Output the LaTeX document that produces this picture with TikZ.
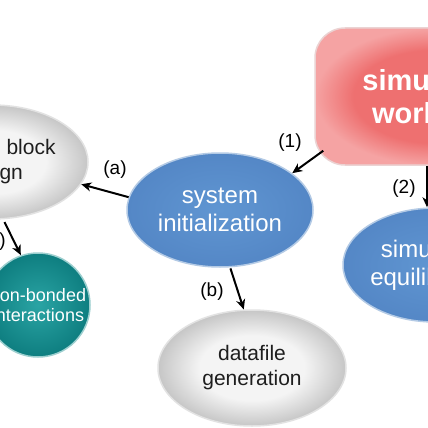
\documentclass[tikz,border=0pt]{standalone}
\usepackage{fontspec}
\setmainfont{Liberation Sans}
\usetikzlibrary{shapes.geometric,arrows.meta}
\definecolor{grayin}{HTML}{F4F4F4}
\definecolor{grayout}{HTML}{C6C6C6}
\definecolor{grayrim}{HTML}{E2E2E2}
\definecolor{bluein}{HTML}{6096D2}
\definecolor{blueout}{HTML}{5487C6}
\definecolor{bluerim}{HTML}{B3CAE5}
\definecolor{tealin}{HTML}{2AA4A4}
\definecolor{tealout}{HTML}{0E7E80}
\definecolor{tealrim}{HTML}{9CCFCF}
\definecolor{redin}{HTML}{EE7070}
\definecolor{redout}{HTML}{F5A3A3}
\definecolor{redrim}{HTML}{EBD3D3}
\definecolor{textdark}{HTML}{1E1E1E}
\pgfdeclareradialshading{redshade}{\pgfpoint{0bp}{0bp}}{%
  color(0bp)=(redin); color(17bp)=(redin); color(25bp)=(redout); color(50bp)=(redout)}
\pgfdeclareradialshading{grayshade}{\pgfpoint{0bp}{0bp}}{%
  color(0bp)=(grayin); color(14bp)=(grayin); color(25bp)=(grayout); color(50bp)=(grayout)}
\tikzset{
  grayell/.style={ellipse, inner sep=0pt, shade, shading=grayshade,
    draw=grayrim, line width=1.5pt, text=textdark, align=center,
    font=\fontsize{21}{25}\selectfont},
  blueell/.style={ellipse, inner sep=0pt, inner color=bluein, outer color=blueout,
    draw=bluerim, line width=1.5pt, text=white, align=center,
    font=\fontsize{24}{28}\selectfont},
  tealcirc/.style={circle, inner sep=0pt, inner color=tealin, outer color=tealout,
    draw=tealrim, line width=1.5pt, text=white, align=center,
    font=\fontsize{18}{20}\selectfont},
  redbox/.style={rectangle, rounded corners=30pt, inner sep=0pt, shade, shading=redshade,
    draw=redrim, line width=1.5pt, text=white, align=center,
    font=\bfseries\fontsize{29}{33}\selectfont},
  arr/.style={-{Stealth[length=10pt,width=9pt,inset=3pt]}, line width=2pt, black},
  lab/.style={font=\fontsize{19}{22}\selectfont, inner sep=0pt, text=black}
}
\begin{document}
\begin{tikzpicture}[x=1pt,y=-1pt]
\useasboundingbox (0,0) rectangle (428,428);
\clip (0,0) rectangle (428,428);
\fill[white] (0,0) rectangle (428,428);
\node[grayell, minimum width=192pt, minimum height=114pt] (block) at (-8,162) {building block\\design};
\node[tealcirc, minimum size=104pt] (teal) at (38,305) {non-bonded\\interactions};
\node[blueell, minimum width=186pt, minimum height=114pt] (sysinit) at (220,210) {system\\initialization};
\node[grayell, minimum width=188pt, minimum height=116pt] (datafile) at (252,368) {datafile\\generation};
\node[redbox, minimum width=240pt, minimum height=137pt] (workflow) at (435,96.5) {simulation\\workflow};
\node[blueell, minimum width=184pt, minimum height=114pt] (equil) at (435,265) {simulation\\equilibration};
\draw[arr] ([xshift=9pt,yshift=15pt]workflow.south west) -- (sysinit.27);
\draw[arr] ([xshift=-8pt]workflow.south) -- ([xshift=-8pt]workflow.south |- equil.north);
\draw[arr] (sysinit.172) -- (block.-14);
\draw[arr, shorten <=1pt] (sysinit.-80) -- (datafile.98);
\draw[arr, shorten <=3pt] (block.-79) -- (teal.109);
\node[lab] (l1) at (290,143) {(1)};
\node[lab] (l2) at (404,189) {(2)};
\node[lab] (la) at (115,170) {(a)};
\node[lab] (lb) at (212,292) {(b)};
\node[lab, anchor=east] (lc) at (6,242) {(c)};
\end{tikzpicture}
\end{document}
